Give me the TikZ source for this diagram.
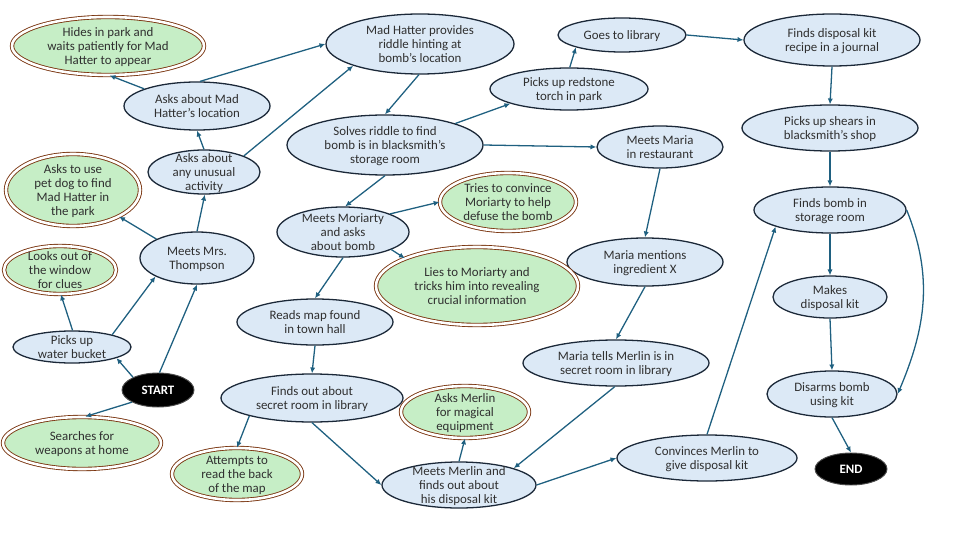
\documentclass[tikz,border=0pt]{standalone}
\usepackage{fontspec}
\setmainfont{Carlito}
\usetikzlibrary{shapes.geometric,arrows.meta}
\definecolor{bluefill}{HTML}{DCE9F6}
\definecolor{greenfill}{HTML}{C6EEC6}
\definecolor{ringc}{HTML}{7A3510}
\definecolor{edgec}{HTML}{1B2838}
\definecolor{arrowc}{HTML}{1F6080}
\definecolor{textc}{HTML}{303030}
% text of fixed-size ellipses, does not grow the node
\newcommand{\txt}[1]{\raisebox{-4pt}[0pt][0pt]{\makebox[0pt]{\begin{tabular}{@{}c@{}}#1\end{tabular}}}}
\begin{document}
\begin{tikzpicture}[x=0.03cm,y=-0.03cm,
    base/.style 2 args = {ellipse, inner sep=0pt, minimum width=#1*0.6mm, minimum height=#2*0.6mm, font=\fontsize{11}{12}\selectfont, text=textc},
    main/.style 2 args = {base={#1}{#2}, fill=bluefill, draw=edgec, line width=1.1pt},
    alt/.style 2 args = {base={#1}{#2}, fill=greenfill, draw=ringc, line width=0.75pt, double=white, double distance=2.2pt},
    term/.style 2 args = {base={#1}{#2}, fill=black, draw=black!70, line width=0.8pt, text=white, font=\fontsize{11}{12}\selectfont\bfseries},
    arr/.style = {-{Latex[length=5pt,width=4.5pt]}, draw=arrowc, line width=1.1pt}]
    \useasboundingbox (0,0) rectangle (960,540);
    \node[alt={96}{29}] (1) at (108,46) {\txt{Hides in park and\\waits patiently for Mad\\Hatter to appear}};
    \node[main={73}{24}] (2) at (197,106) {\txt{Asks about Mad\\Hatter’s location}};
    \node[main={56}{22}] (3) at (204,172) {\txt{Asks about\\any unusual\\activity}};
    \node[alt={67}{36}] (4) at (73,190) {\txt{Asks to use\\pet dog to find\\Mad Hatter in\\the park}};
    \node[main={57}{26}] (5) at (197,258) {\txt{Meets Mrs.\\Thompson}};
    \node[alt={56}{24}] (6) at (60,270) {\txt{Looks out of\\the window\\for clues}};
    \node[main={59}{16}] (7) at (72,347) {\txt{Picks up\\water bucket}};
    \node[term={36}{17}] (8) at (158,390) {\txt{START}};
    \node[alt={79}{26}] (9) at (82,443) {\txt{Searches for\\weapons at home}};
    \node[main={94}{30}] (10) at (420,44) {\txt{Mad Hatter provides\\riddle hinting at\\bomb’s location}};
    \node[main={98}{30}] (11) at (385,145) {\txt{Solves riddle to find\\bomb is in blacksmith’s\\storage room}};
    \node[main={79}{21}] (12) at (569,89) {\txt{Picks up redstone\\torch in park}};
    \node[main={64}{17}] (13) at (622,35) {\txt{Goes to library}};
    \node[main={88}{26}] (14) at (832,40) {\txt{Finds disposal kit\\recipe in a journal}};
    \node[main={88}{23}] (15) at (830,128) {\txt{Picks up shears in\\blacksmith’s shop}};
    \node[main={63}{21}] (16) at (660,147) {\txt{Meets Maria\\in restaurant}};
    \node[main={76}{23}] (17) at (830,210) {\txt{Finds bomb in\\storage room}};
    \node[main={57}{21}] (18) at (830,297) {\txt{Makes\\disposal kit}};
    \node[main={65}{23}] (19) at (832,394) {\txt{Disarms bomb\\using kit}};
    \node[term={36}{16}] (20) at (851,469) {\txt{END}};
    \node[main={78}{24}] (21) at (645,262) {\txt{Maria mentions\\ingredient X}};
    \node[main={93}{23}] (22) at (616,363) {\txt{Maria tells Merlin is in\\secret room in library}};
    \node[main={90}{23}] (23) at (707,458) {\txt{Convinces Merlin to\\give disposal kit}};
    \node[main={77}{23}] (24) at (459,485) {\txt{Meets Merlin and\\finds out about\\his disposal kit}};
    \node[alt={64}{26}] (25) at (465,412) {\txt{Asks Merlin\\for magical\\equipment}};
    \node[main={91}{24}] (26) at (312,398) {\txt{Finds out about\\secret room in library}};
    \node[alt={65}{26}] (27) at (237,474) {\txt{Attempts to\\read the back\\of the map}};
    \node[main={78}{23}] (28) at (315,322) {\txt{Reads map found\\in town hall}};
    \node[main={66}{25}] (29) at (343,232) {\txt{Meets Moriarty\\and asks\\about bomb}};
    \node[alt={68}{29}] (30) at (508,202) {\txt{Tries to convince\\Moriarty to help\\defuse the bomb}};
    \node[alt={101}{39}] (31) at (477,286) {\txt{Lies to Moriarty and\\tricks him into revealing\\crucial information}};
    % start side
    \draw[arr] (8.153) -- (7.-14);
    \draw[arr] (8.85) -- (5.south);
    \draw[arr] (8.205) -- (9.83);
    \draw[arr] (7.88) -- (6.-88);
    \draw[arr] (7.17) -- (5.204);
    \draw[arr] (5.155) -- (4.-30);
    \draw[arr] (5.north) -- (3.-88);
    \draw[arr] (3.north) -- (2.south);
    \draw[arr] (2.162) -- (1.-87);
    \draw[arr] (2.83) -- (10.west);
    \draw[arr] (3.22) -- (10.198);
    \draw[arr] (10.-92) -- (11.north);
    % library branch
    \draw[arr] (11.17) -- (12.194);
    \draw[arr] (12.88) -- (13.195);
    \draw[arr] (13.east) -- (14.west);
    \draw[arr] (14.south) -- (15.north);
    \draw[arr] (15.south) -- (17.north);
    % Maria branch
    \draw[arr] (11.east) -- (16.west);
    \draw[arr] (16.south) -- (21.north);
    \draw[arr] (21.south) -- (22.north);
    \draw[arr] (22.-93) -- (24.17);
    % Moriarty branch
    \draw[arr] (11.south) -- (29.85);
    \draw[arr] (29.21) -- (30.west);
    \draw[arr] (29.-20) -- (31.159);
    \draw[arr] (29.south) -- (28.north);
    \draw[arr] (28.south) -- (26.north);
    \draw[arr] (26.196) -- (27.north);
    \draw[arr] (26.south) -- (24.west);
    % Merlin and ending
    \draw[arr] (24.north) -- (25.south);
    \draw[arr] (24.east) -- (23.west);
    \draw[arr] (23.north) -- (17.197);
    \draw[arr] (17.south) -- (18.north);
    \draw[arr] (18.south) -- (19.north);
    \draw[arr] (17.east) to [out=-68,in=67] (19.east);
    \draw[arr] (19.south) -- (20.north);
\end{tikzpicture}
\end{document}
